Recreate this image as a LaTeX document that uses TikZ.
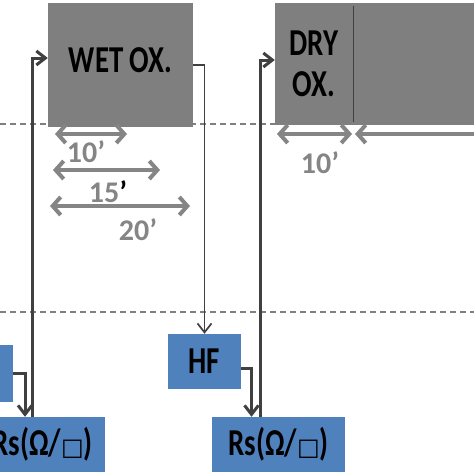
\documentclass[tikz,border=0pt]{standalone}
\usepackage{fontspec}
\setmainfont{Carlito}
\newfontfamily\boxfont[FakeStretch=0.76]{Carlito}
\newfontfamily\symfont{DejaVu Sans}
\usetikzlibrary{arrows.meta}
\definecolor{boxgray}{HTML}{7F7F7F}
\definecolor{boxblue}{HTML}{4F81BD}
\definecolor{linegray}{HTML}{404040}
\definecolor{dimgray}{HTML}{858585}
\newcommand\sqbox{{\symfont\fontsize{24}{24}\selectfont □}}
\tikzset{
  graybox/.style={fill=boxgray,draw=none,inner sep=0pt,
    font=\boxfont\bfseries\fontsize{38}{41}\selectfont},
  bluebox/.style={fill=boxblue,draw=none,inner sep=0pt,
    font=\boxfont\bfseries\fontsize{38}{41}\selectfont},
  conn/.style={draw=linegray,line width=3pt,
    -{Straight Barb[length=9pt,width=14pt]}},
  level/.style={draw=boxgray,line width=1.5pt,dash pattern=on 6pt off 4pt},
  dim/.style={draw=dimgray,line width=4pt,{Straight Barb[length=8pt,width=18pt]}-{Straight Barb[length=8pt,width=18pt]}},
  lbl/.style={text=dimgray,inner sep=0pt,font=\bfseries\fontsize{30}{30}\selectfont}
}
\begin{document}
\begin{tikzpicture}[x=1pt,y=-1pt]
    \useasboundingbox (0,0) rectangle (474,474);
    \clip (0,0) rectangle (474,474);

    %%%%%%% Livelli %%%%%%%
    \draw[level] (0,124) -- (474,124);
    \draw[level] (0,312) -- (474,312);

    %%%%%%% Ossidazioni %%%%%%%
    \node[graybox,minimum width=145pt,minimum height=124pt,text depth=10pt] (wet) at (120.5,65) {WET OX.\hspace{8pt}};
    \node[graybox,minimum width=78pt,minimum height=122pt,align=center] (dry) at (314,64) {DRY\\OX.};
    \node[graybox,minimum width=150pt,minimum height=122pt,anchor=west] (dryrest) at (dry.east) {};
    \draw[linegray,line width=0.8pt] ([yshift=-3pt]dry.north east) -- ([yshift=3pt]dry.south east);

    %%%%%%% Blocchi blu %%%%%%%
    \node[bluebox,minimum width=73pt,minimum height=57pt] (hfL) at (-24,373.5) {};
    \node[bluebox,minimum width=73pt,minimum height=55pt] (hf) at (204.5,361.5) {HF\hspace{12pt}};
    \node[bluebox,minimum width=125pt,minimum height=55pt] (rsL) at (42.5,444.5) {Rs(Ω/\sqbox)};
    \node[bluebox,minimum width=133pt,minimum height=55pt] (rsR) at (278.5,444.5) {Rs(Ω/\sqbox)};

    %%%%%%% Collegamenti %%%%%%%
    \coordinate (lx) at (32,0);
    \draw[conn] (rsL.north -| lx) |- ([yshift=7pt]wet.west);
    \draw[conn,line width=1.7pt] (wet.east) -| (hf.north);
    \draw[conn] ([yshift=-7pt]hf.east) -| ([xshift=-27pt]rsR.north);
    \draw[conn] ([xshift=-18.5pt]rsR.north) |- ([yshift=4pt]dry.west);
    \draw[conn] (hfL.east) -| ([xshift=-17.5pt]rsL.north);

    %%%%%%% Tempi %%%%%%%
    \draw[dim] (55,134) -- (127,134);
    \draw[dim] (53,170) -- (160,170);
    \draw[dim] (50,206) -- (190,206);
    \draw[dim] (277,134) -- (352,134);
    \draw[draw=dimgray,line width=4pt,{Straight Barb[length=8pt,width=18pt]}-] (355,134) -- (480,134);

    \node[lbl] (t10) at (86,152) {10’};
    \node[lbl] (t15) at (108,192) {15{\color{black}’}};
    \node[lbl] (t20) at (138,230) {20’};
    \node[lbl] (t10b) at (320,163) {10’};
\end{tikzpicture}
\end{document}
